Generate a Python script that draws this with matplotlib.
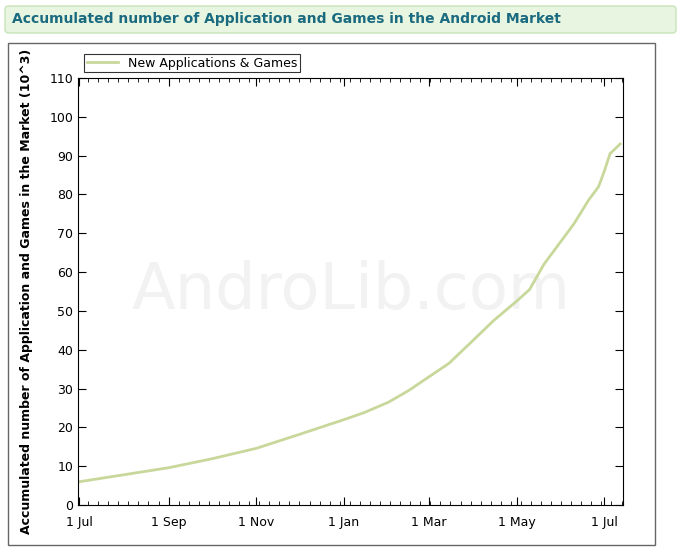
import matplotlib
matplotlib.use("Agg")
import matplotlib.pyplot as plt
import matplotlib.dates as mdates
from matplotlib.patches import FancyBboxPatch, Rectangle
import pandas as pd

dates = ["2008-07-01","2008-08-01","2008-09-01","2008-10-01","2008-11-01","2008-12-01",
         "2009-01-01","2009-01-15","2009-02-01","2009-02-15","2009-03-01","2009-03-15",
         "2009-04-01","2009-04-15","2009-05-01","2009-05-10","2009-05-20","2009-06-01",
         "2009-06-10","2009-06-20","2009-06-27","2009-07-01","2009-07-05","2009-07-12"]
values = [6, 7.8, 9.6, 11.9, 14.6, 18.2, 22, 23.8, 26.5, 29.5, 33, 36.5,
          42.5, 47.5, 52.5, 55.5, 62, 68, 72.5, 78.5, 82, 86, 90.5, 93]
title = "Accumulated number of Application and Games in the Android Market"
ylabel = "Accumulated number of Application and Games in the Market (10^3)"
series_name = "New Applications & Games"

x = pd.to_datetime(dates)
fig = plt.figure(figsize=(6.8, 5.54), dpi=100)
W, H = 680, 554
fig.patches.append(FancyBboxPatch((5/W, 1-33/H), 671/W, 27/H, boxstyle="round,pad=0,rounding_size=0.006",
                                  transform=fig.transFigure, facecolor="#e8f5e0", edgecolor="#c8e3b8"))
fig.text(12/W, 1-19/H, title, color="#1a6a80", fontsize=10, fontweight="bold", va="center")
fig.patches.append(Rectangle((8/W, 1-545/H), 647/W, 502/H, transform=fig.transFigure,
                             facecolor="none", edgecolor="#666666", lw=1))
ax = fig.add_axes([78/W, 1-505/H, 545/W, 427/H])
ax.plot(x, values, color="#c8d89a", lw=2, label=series_name)
ax.set_ylim(0, 110)
ax.set_xlim(pd.Timestamp("2008-06-30"), pd.Timestamp("2009-07-14"))
ax.set_yticks(range(0, 111, 10))
ax.xaxis.set_major_locator(mdates.MonthLocator(bymonth=[1,3,5,7,9,11]))
ax.xaxis.set_major_formatter(mdates.DateFormatter("1 %b"))
ax.xaxis.set_minor_locator(mdates.WeekdayLocator(byweekday=0))
ax.tick_params(which="both", direction="in", top=True, right=True, labelsize=9)
ax.tick_params(which="major", length=6)
ax.tick_params(which="minor", length=3)
ax.tick_params(axis="x", pad=8)
ax.set_ylabel(ylabel, fontsize=9, fontweight="bold", labelpad=12)
ax.text(0.5, 0.5, "AndroLib.com", transform=ax.transAxes, ha="center", va="center",
        fontsize=46, color="#f2f2f2", zorder=0)
leg = ax.legend(loc="upper left", bbox_to_anchor=(0.0, 1.07), fontsize=9, frameon=True,
                fancybox=False, edgecolor="black", borderpad=0.2, handlelength=2.5)
leg.get_frame().set_linewidth(0.8)
fig.savefig("out.png", dpi=100)
